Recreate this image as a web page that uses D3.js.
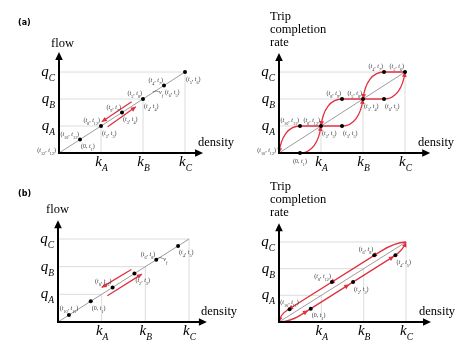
<!DOCTYPE html>
<html><head><meta charset="utf-8">
<script src="https://cdn.jsdelivr.net/npm/d3@7"></script>
<style>body{margin:0;background:#fff}svg{display:block;will-change:transform}.lbl{filter:url(#gray)}</style>
</head><body>
<svg id="c" width="474" height="352"><defs><filter id="gray" x="-20%" y="-20%" width="140%" height="140%"><feColorMatrix type="saturate" values="0"/></filter></defs></svg>
<script>
// ---------- data (density k, flow q in units of kA / qA) ----------
const densityTicks = [1, 2, 3];
const densityTickNames = ["A", "B", "C"];
const flowTicks = [1, 2, 3];
const flowTickNames = ["A", "B", "C"];
const diagonalEnds = [[0, 0], [3, 3]];

// (a) flow vs density
const aFlowDots = [[0.5,0.5],[1,1],[1.5,1.5],[2,2],[2.5,2.5],[3,3]];
const aFlowLabels = [
  [0,0,"t12,t12","l"],
  [0.5,0.5,"t10,t11","ul"],[0.5,0.5,"0,t1","lr"],
  [1,1,"t8,t12","ul"],[1,1,"t2,t3","lr"],
  [1.5,1.5,"t9,t7","ul"],[1.5,1.5,"t3,t4","lr"],
  [2,2,"t5,t8","ul"],[2,2,"t4,t4","lr"],
  [2.5,2.5,"t4,t7","ul"],[2.5,2.5,"t6,t5","lr"],
  [3,3,"t5,t6","lr"]
];
const aFlowArrows = [
  [[1.73,1.90],[1.02,1.16]],
  [[1.16,0.97],[1.83,1.71]]
];
const aFlowSlope = [2.3, 2.3];

// (a) trip completion rate vs density
const aRateSteps = [0, 1, 2];
const lensLower = [["M",[0,0]],["L",[0.5,0]],["C",[0.78,0],[0.95,0.4],[1,1]]];
const lensUpper = [["M",[1,1]],["L",[0.5,1]],["C",[0.22,1],[0.05,0.6],[0,0]]];
const aRateDots = [[0.5,0],[0.5,1],[1,1],[1.5,1],[1.5,2],[2,2],[2.5,2],[2.5,3],[3,3]];
const aRateLabels = [
  [0,0,"t10,t12","l"],[0.5,0,"0,t1","d"],[0.5,1,"t10,t11","ul"],
  [1,1,"t8,t12","ul"],[1,1,"t2,t3","lr"],[1.5,1,"t3,t5","lr"],
  [1.5,2,"t8,t9","ul"],[2,2,"t5,t8","ul"],[2,2,"t3,t4","lr"],
  [2.5,2,"t6,t5","lr"],[2.5,3,"t4,t7","ul"],[3,3,"t5,t6","ul"]
];

// (b) flow vs density
const bFlowDots = [[0.25,0.25],[0.75,0.75],[1.25,1.25],[1.75,1.75],[2.25,2.25],[2.75,2.75]];
const bFlowLabels = [
  [0.25,0.25,"t10,t11","u"],[0.75,0.75,"0,t1","lr"],
  [1.25,1.25,"t8,t12","ul"],[1.75,1.75,"t2,t3","lr"],
  [2.25,2.25,"t6,t8","ul"],[2.75,2.75,"t4,t5","lr"]
];
const bFlowArrows = [
  [[1.68,1.90],[1.00,1.25]],
  [[1.13,0.95],[1.92,1.73]]
];
const bFlowSlope = [2.33, 2.33];

// (b) trip completion rate vs density
const bRateLower = [["M",[0,0]],["C",[0.2,0.02],[0.35,0.1],[0.5,0.25]],["L",[2.7,2.45]],["C",[2.85,2.6],[2.95,2.75],[3,3]]];
const bRateUpper = [["M",[3,3]],["C",[2.75,2.98],[2.55,2.8],[2.4,2.65]],["L",[0.2,0.45]],["C",[0.1,0.35],[0.02,0.2],[0,0]]];
const bRateLowerHeads = [[0.68,0.43],[1.66,1.41],[2.72,2.47],[3,3]];
const bRateUpperHeads = [[2.2,2.45],[1.2,1.45],[0.22,0.47],[0,0]];
const bRateDots = [[0.25,0.48],[0.75,0.5],[1.25,1.5],[1.75,1.5],[2.25,2.5],[2.75,2.5]];
const bRateLabels = [
  [0.25,0.48,"t10,t11","u"],[0.75,0.5,"0,t1","lr"],
  [1.25,1.5,"t8,t12","ul"],[1.75,1.5,"t2,t3","lr"],
  [2.25,2.5,"t6,t8","ul"],[2.75,2.5,"t4,t5","lr"]
];

// ---------- drawing ----------
const RED = "#e0303e";
const SERIF = "'Liberation Serif','Times New Roman',serif";
const svg = d3.select("#c");

function pathFrom(segs, x, y) {
  const p = d3.path();
  segs.forEach(s => {
    const pts = s.slice(1).map(d => [x(d[0]), y(d[1])]);
    if (s[0] === "M") p.moveTo(pts[0][0], pts[0][1]);
    else if (s[0] === "L") p.lineTo(pts[0][0], pts[0][1]);
    else p.bezierCurveTo(pts[0][0], pts[0][1], pts[1][0], pts[1][1], pts[2][0], pts[2][1]);
  });
  return p.toString();
}
function arrowHead(g, px, py, ang, color, len, hw) {
  const c = Math.cos(ang), s = Math.sin(ang);
  const bx = px - c * len, by = py - s * len;
  g.append("path")
    .attr("d", `M${px},${py}L${bx - s * hw},${by + c * hw}L${bx + s * hw},${by - c * hw}Z`)
    .attr("fill", color);
}
function headsOnPath(g, node, targets, color, len, hw) {
  const total = node.getTotalLength();
  const N = 400, samples = [];
  for (let i = 0; i <= N; i++) { const L = total * i / N; const p = node.getPointAtLength(L); samples.push([L, p.x, p.y]); }
  targets.forEach(([tx, ty]) => {
    let best = samples[0], bd = Infinity;
    samples.forEach(s => { const d = (s[1] - tx) ** 2 + (s[2] - ty) ** 2; if (d < bd) { bd = d; best = s; } });
    const L = Math.max(2, best[0]);
    const p1 = node.getPointAtLength(L - 2), p2 = node.getPointAtLength(L);
    arrowHead(g, p2.x, p2.y, Math.atan2(p2.y - p1.y, p2.x - p1.x), color, len, hw);
  });
}
function addLabel(g, px, py, str, pos) {
  const off = {ul:[-1,-4,"end"], lr:[1,8.5,"start"], u:[0,-5,"middle"], d:[0,9.5,"middle"], l:[-3,-1,"end"]}[pos];
  const t = g.append("text").attr("x", px + off[0]).attr("y", py + off[1])
    .attr("text-anchor", off[2]).attr("font-size", 6).attr("font-family", SERIF).attr("fill", "#333");
  t.append("tspan").text("(");
  str.split(",").forEach((part, i) => {
    if (i > 0) t.append("tspan").text(", ");
    if (part[0] === "t") {
      t.append("tspan").attr("font-style", "italic").text("t");
      t.append("tspan").attr("font-size", 4.2).attr("baseline-shift", "sub").text(part.slice(1));
    } else t.append("tspan").text(part);
  });
  t.append("tspan").text(")");
}
function slopeMark(g, x, y, k) {
  const px = x(k), py = y(k);
  g.append("path").attr("d", `M${px - 3},${py + 1}Q${px + 1},${py - 1} ${px + 3},${py + 1}`)
    .attr("fill", "none").attr("stroke", "#555").attr("stroke-width", 0.7);
  const t = g.append("text").attr("class", "lbl").attr("x", px + 3.5).attr("y", py + 3.5).attr("font-size", 6)
    .attr("font-family", SERIF).attr("font-style", "italic").attr("fill", "#333");
  t.append("tspan").text("v");
  t.append("tspan").attr("font-size", 4.5).attr("baseline-shift", "sub").text("f");
}

function panel(P) {
  const x = d3.scaleLinear().domain([0, 3]).range([P.ox, P.kx]);
  const y = d3.scaleLinear().domain([0, 3]).range([P.oy, P.qy]);
  const g = svg.append("g");

  // guide lines
  densityTicks.forEach((k, i) => {
    const q = flowTicks[i];
    g.append("line").attr("x1", x(0)).attr("x2", x(k)).attr("y1", y(q)).attr("y2", y(q))
      .attr("stroke", "#dcdcdc").attr("stroke-width", 1);
    g.append("line").attr("x1", x(k)).attr("x2", x(k)).attr("y1", y(0)).attr("y2", y(q))
      .attr("stroke", "#dcdcdc").attr("stroke-width", 1);
  });
  // diagonal
  g.append("line").attr("x1", x(diagonalEnds[0][0])).attr("y1", y(diagonalEnds[0][1]))
    .attr("x2", x(diagonalEnds[1][0])).attr("y2", y(diagonalEnds[1][1]))
    .attr("stroke", "#9c9c9c").attr("stroke-width", 1);

  P.draw(g, x, y);

  // dots
  g.selectAll("circle.dot").data(P.dots).join("circle").attr("class", "dot")
    .attr("cx", d => x(d[0])).attr("cy", d => y(d[1])).attr("r", 2).attr("fill", "#000");
  // labels
  const lg = g.append("g").attr("class", "lbl");
  P.labels.forEach(d => addLabel(lg, x(d[0]), y(d[1]), d[2], d[3]));

  // axes
  const gx = g.append("g").attr("transform", `translate(0,${P.oy})`)
    .call(d3.axisBottom(x).tickValues(densityTicks).tickSize(0).tickFormat(""));
  gx.select(".domain").remove();
  gx.selectAll(".tick text").attr("y", 12.5).attr("dy", null)
    .attr("font-family", SERIF).attr("font-size", 15).attr("font-style", "italic").attr("fill", "#000")
    .each(function (d, i) {
      const t = d3.select(this);
      t.append("tspan").text("k");
      t.append("tspan").attr("font-size", 9.5).attr("baseline-shift", "sub").text(densityTickNames[i]);
    });
  const gy = g.append("g").attr("transform", `translate(${P.ox},0)`)
    .call(d3.axisLeft(y).tickValues(flowTicks).tickSize(0).tickPadding(4).tickFormat(""));
  gy.select(".domain").remove();
  gy.selectAll(".tick text").attr("y", 3.5).attr("dy", null)
    .attr("font-family", SERIF).attr("font-size", 15).attr("font-style", "italic").attr("fill", "#000")
    .each(function (d, i) {
      const t = d3.select(this);
      t.append("tspan").text("q");
      t.append("tspan").attr("font-size", 9.5).attr("baseline-shift", "sub").text(flowTickNames[i]);
    });

  const xEnd = x(P.xMax), yTop = y(P.yMax);
  g.append("line").attr("x1", x(0) - 1).attr("x2", xEnd - 6).attr("y1", y(0)).attr("y2", y(0))
    .attr("stroke", "#000").attr("stroke-width", 2);
  g.append("line").attr("x1", x(0)).attr("x2", x(0)).attr("y1", y(0) + 1).attr("y2", yTop + 6)
    .attr("stroke", "#000").attr("stroke-width", 2);
  arrowHead(g, xEnd, y(0), 0, "#000", 8, 3.8);
  arrowHead(g, x(0), yTop, -Math.PI / 2, "#000", 8, 3.8);

  // titles
  g.append("text").attr("x", P.xt[0]).attr("y", P.xt[1]).attr("font-family", SERIF)
    .attr("font-size", 12.5).attr("fill", "#000").text("density");
  P.yt.lines.forEach((s, i) => g.append("text").attr("x", P.yt.x).attr("y", P.yt.y + i * 13)
    .attr("font-family", SERIF).attr("font-size", 12.5).attr("fill", "#000").text(s));
}

function straightArrows(arrows) {
  return (g, x, y) => arrows.forEach(a => {
    const p = g.append("path").attr("d", pathFrom([["M", a[0]], ["L", a[1]]], x, y))
      .attr("fill", "none").attr("stroke", RED).attr("stroke-width", 1.3);
    headsOnPath(g, p.node(), [[x(a[1][0]), y(a[1][1])]], RED, 5, 2.4);
  });
}

panel({
  ox: 59, oy: 153, kx: 185, qy: 72, xMax: 3.43, yMax: 3.74,
  dots: aFlowDots, labels: aFlowLabels,
  xt: [198, 146], yt: {x: 51, y: 47, lines: ["flow"]},
  draw: (g, x, y) => { straightArrows(aFlowArrows)(g, x, y); slopeMark(g, x, y, aFlowSlope[0]); }
});
panel({
  ox: 279, oy: 153, kx: 405, qy: 72, xMax: 3.6, yMax: 3.7,
  dots: aRateDots, labels: aRateLabels,
  xt: [418, 146], yt: {x: 270, y: 20, lines: ["Trip", "completion", "rate"]},
  draw: (g, x, y) => aRateSteps.forEach(s => {
    const shift = segs => segs.map(seg => [seg[0], ...seg.slice(1).map(d => [d[0] + s, d[1] + s])]);
    [shift(lensLower), shift(lensUpper)].forEach(segs => {
      const p = g.append("path").attr("d", pathFrom(segs, x, y))
        .attr("fill", "none").attr("stroke", RED).attr("stroke-width", 1.3);
      const end = segs[segs.length - 1].slice(-1)[0];
      headsOnPath(g, p.node(), [[x(end[0]), y(end[1])]], RED, 5, 2.4);
    });
  })
});
panel({
  ox: 58, oy: 322, kx: 189, qy: 239, xMax: 3.41, yMax: 3.68,
  dots: bFlowDots, labels: bFlowLabels,
  xt: [201, 315], yt: {x: 46, y: 213, lines: ["flow"]},
  draw: (g, x, y) => { straightArrows(bFlowArrows)(g, x, y); slopeMark(g, x, y, bFlowSlope[0]); }
});
panel({
  ox: 279, oy: 322, kx: 406, qy: 242, xMax: 3.59, yMax: 3.7,
  dots: bRateDots, labels: bRateLabels,
  xt: [419, 315], yt: {x: 270, y: 190, lines: ["Trip", "completion", "rate"]},
  draw: (g, x, y) => {
    [[bRateLower, bRateLowerHeads], [bRateUpper, bRateUpperHeads]].forEach(([segs, heads]) => {
      const p = g.append("path").attr("d", pathFrom(segs, x, y))
        .attr("fill", "none").attr("stroke", RED).attr("stroke-width", 1.3);
      headsOnPath(g, p.node(), heads.map(d => [x(d[0]), y(d[1])]), RED, 5, 2.4);
    });
  }
});

// panel tags
svg.append("text").attr("x", 18).attr("y", 25).attr("font-family", "'DejaVu Sans',sans-serif")
  .attr("font-weight", "bold").attr("font-size", 8).text("(a)");
svg.append("text").attr("x", 18).attr("y", 196).attr("font-family", "'DejaVu Sans',sans-serif")
  .attr("font-weight", "bold").attr("font-size", 8).text("(b)");
</script>
</body></html>
